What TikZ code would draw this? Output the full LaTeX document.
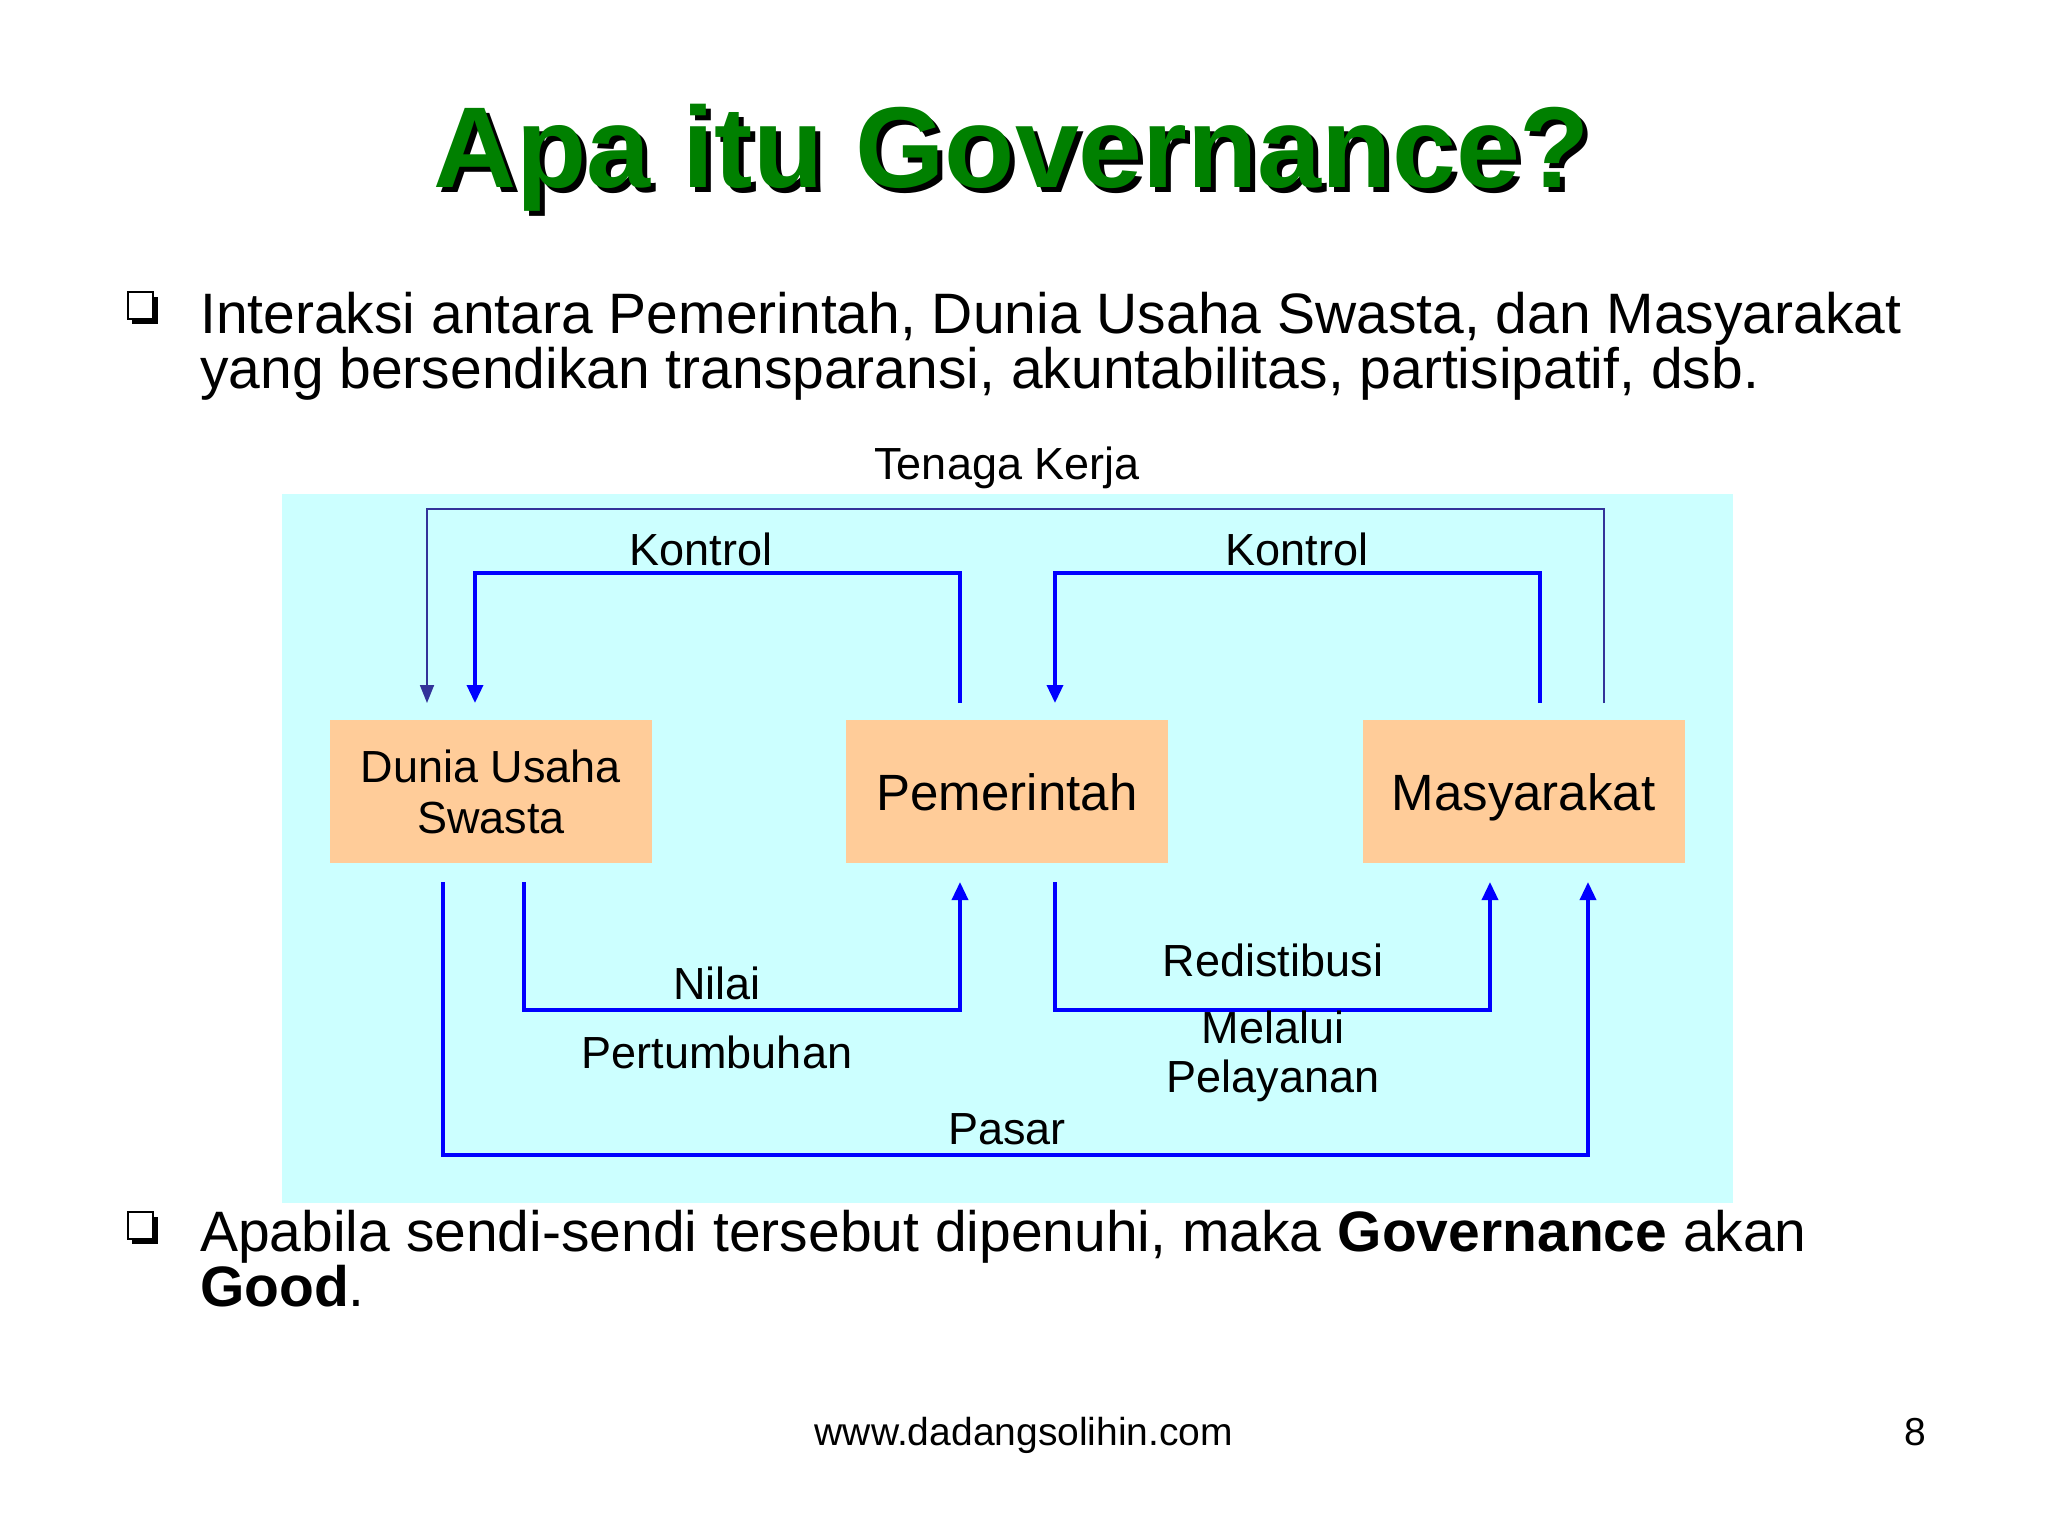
\documentclass[tikz,border=0pt]{standalone}
\usepackage{fontspec}
\setmainfont{Liberation Sans}
\usetikzlibrary{arrows.meta}
\definecolor{titlegreen}{RGB}{0,128,0}
\definecolor{bgcyan}{RGB}{204,255,255}
\definecolor{peach}{RGB}{255,204,153}
\definecolor{navyline}{RGB}{51,51,153}
\definecolor{pureblue}{RGB}{0,0,255}
\begin{document}
\begin{tikzpicture}[x=1pt,y=-1pt,
  bluearrow/.style={draw=pureblue,line width=3.5pt,line join=miter,-{Triangle[length=18pt,width=16pt]}},
  navyarrow/.style={draw=navyline,line width=1.8pt,line join=miter,-{Triangle[length=18pt,width=14pt]}},
  peachbox/.style={fill=peach,minimum width=322pt,minimum height=143pt,inner sep=0pt,align=center},
  lbl/.style={inner sep=0pt,anchor=base,font=\fontsize{45}{51}\selectfont},
  bodytext/.style={inner sep=0pt,anchor=base west,font=\fontsize{57}{56}\selectfont},
  bulletbox/.style={draw=black,line width=2.2pt,fill=white}
]
\useasboundingbox (0,0) rectangle (2048,1536);
\fill[white] (0,0) rectangle (2048,1536);
% title
\node[inner sep=0pt,anchor=base,font=\fontsize{115}{120}\selectfont\bfseries,text=black] (titleshadow) at (1017,192) {Apa itu Governance?};
\node[inner sep=0pt,anchor=base,font=\fontsize{115}{120}\selectfont\bfseries,text=titlegreen] (title) at (1012,187) {Apa itu Governance?};
% bullet 1
\fill[black] (132,297) rectangle (158,324);
\draw[bulletbox] (128,292) rectangle (153,319);
\node[bodytext] (b1a) at (200,333) {Interaksi antara Pemerintah, Dunia Usaha Swasta, dan Masyarakat};
\node[bodytext] (b1b) at (200,388) {yang bersendikan transparansi, akuntabilitas, partisipatif, dsb.};
% background
\fill[bgcyan] (282,494) rectangle (1733,1203);
\node[lbl] (tk) at (1007,479) {Tenaga Kerja};
% boxes
\node[peachbox,font=\fontsize{45}{51}\selectfont] (dus) at (491,791.5) {Dunia Usaha\\Swasta};
\node[peachbox,font=\fontsize{51}{56}\selectfont,text height=37pt,text depth=0pt] (pem) at (1007,791.5) {Pemerintah};
\node[peachbox,font=\fontsize{51}{56}\selectfont,text height=37pt,text depth=0pt] (mas) at (1523.5,791.5) {Masyarakat};
% coordinates
\coordinate (tks) at (1604,703);
\coordinate (tke) at (427,703);
\coordinate (k1s) at (960,703);
\coordinate (k1e) at (475,703);
\coordinate (k2s) at (1540,703);
\coordinate (k2e) at (1055,703);
\coordinate (nps) at (524,882);
\coordinate (npe) at (960,882);
\coordinate (rds) at (1055,882);
\coordinate (rde) at (1490,882);
\coordinate (pss) at (443,882);
\coordinate (pse) at (1588,882);
% connectors
\draw[navyarrow] (tks) -- (1604,509) -| (tke);
\draw[bluearrow] (k1s) -- (960,573) -| (k1e);
\draw[bluearrow] (k2s) -- (1540,573) -| (k2e);
\draw[bluearrow] (nps) -- (524,1010) -| (npe);
\draw[bluearrow] (rds) -- (1055,1010) -| (rde);
\draw[bluearrow] (pss) -- (443,1155) -| (pse);
% labels
\node[lbl] (kon1) at (701,565) {Kontrol};
\node[lbl] (kon2) at (1297,565) {Kontrol};
\node[lbl] (nil) at (717,999) {Nilai};
\node[lbl] (per) at (717,1068) {Pertumbuhan};
\node[lbl] (red) at (1273,976) {Redistibusi};
\node[lbl] (mel) at (1273,1043) {Melalui};
\node[lbl] (pel) at (1273,1092) {Pelayanan};
\node[lbl] (pas) at (1007,1144) {Pasar};
% bullet 2
\fill[black] (132,1217) rectangle (158,1244);
\draw[bulletbox] (128,1212) rectangle (153,1239);
\node[bodytext] (b2a) at (200,1251) {Apabila sendi-sendi tersebut dipenuhi, maka \textbf{Governance} akan};
\node[bodytext] (b2b) at (200,1306) {\textbf{Good}.};
% footer
\node[inner sep=0pt,anchor=base,font=\fontsize{39}{44}\selectfont] (url) at (1024,1445) {www.dadangsolihin.com};
\node[inner sep=0pt,anchor=base,font=\fontsize{39}{44}\selectfont] (pg) at (1915,1445) {8};
\end{tikzpicture}
\end{document}
